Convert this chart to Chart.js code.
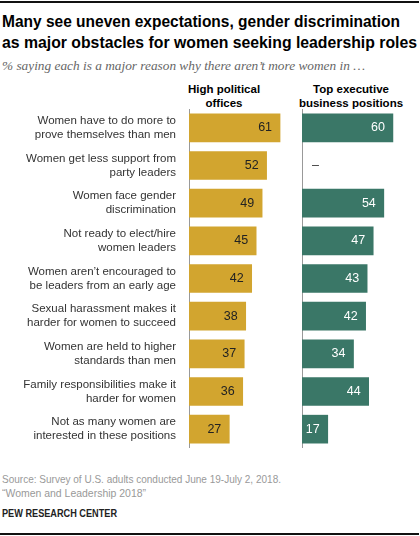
<!DOCTYPE html>
<html>
<head>
<meta charset="utf-8">
<script src="https://cdn.jsdelivr.net/npm/chart.js@4.4.0/dist/chart.umd.min.js"></script>
<style>
    body { margin: 0; background: #fff; }
    #wrap { position: relative; width: 420px; height: 536px; overflow: hidden; font-family: "Liberation Sans", Arial, sans-serif; color: #222; }
    .rule { position: absolute; left: 0; width: 419px; height: 2px; background: #111; }
    .fit { position: absolute; left: 2px; white-space: nowrap; transform-origin: 0 0; }
    .ttl { font-size: 17px; font-weight: bold; color: #000; }
    #sub { top: 58px; font-family: "Liberation Serif", Georgia, serif; font-style: italic; font-size: 13px; color: #666; }
    .colhead { position: absolute; width: 140px; text-align: center; font-size: 11.5px; font-weight: bold; line-height: 14px; color: #000; }
    canvas { position: absolute; }
    .foot { font-size: 11px; color: #999; }
</style>
</head>
<body>
<div id="wrap">
    <div class="rule" style="top:1px"></div>
    <div class="fit ttl" id="t1" style="top:12px">Many see uneven expectations, gender discrimination</div>
    <div class="fit ttl" id="t2" style="top:33px">as major obstacles for women seeking leadership roles</div>
    <div class="fit" id="sub">% saying each is a major reason why there aren’t more women in …</div>

    <div class="colhead" style="left:154px; top:82px">High political<br>offices</div>
    <div class="colhead" style="left:281px; top:82px">Top executive<br>business positions</div>

    <canvas id="politicalChart" style="left:0; top:109px"></canvas>
    <canvas id="businessChart" style="left:297px; top:109px"></canvas>

    <div class="fit foot" id="f1" style="top:473px">Source: Survey of U.S. adults conducted June 19-July 2, 2018.</div>
    <div class="fit foot" id="f2" style="top:487px">“Women and Leadership 2018”</div>
    <div class="fit foot" id="f3" style="top:507px; color:#222; font-weight:bold">PEW RESEARCH CENTER</div>
    <div class="rule" style="top:533px"></div>
</div>

<script>
var reasons = [
    ['Women have to do more to', 'prove themselves than men'],
    ['Women get less support from', 'party leaders'],
    ['Women face gender', 'discrimination'],
    ['Not ready to elect/hire', 'women leaders'],
    ['Women aren\u2019t encouraged to', 'be leaders from an early age'],
    ['Sexual harassment makes it', 'harder for women to succeed'],
    ['Women are held to higher', 'standards than men'],
    ['Family responsibilities make it', 'harder for women'],
    ['Not as many women are', 'interested in these positions']
];
var politicalValues = [61, 52, 49, 45, 42, 38, 37, 36, 27];
var businessValues = [60, null, 54, 47, 43, 42, 34, 44, 17];

var GOLD = '#D2A52F';
var GREEN = '#3A7767';
var FONT = "'Liberation Sans', Arial, sans-serif";

// squeeze text lines to the width they take in the original
function fitLine(id, width) {
    var el = document.getElementById(id);
    var w = el.getBoundingClientRect().width;
    el.style.transform = 'scaleX(' + (width / w) + ')';
}
fitLine('t1', 398);
fitLine('t2', 415);
fitLine('sub', 363);
fitLine('f1', 279);
fitLine('f2', 144);
fitLine('f3', 115);

// value labels drawn near the end of each bar, a dash where there's no value
var valueLabels = {
    id: 'valueLabels',
    afterDatasetsDraw: function(chart) {
        var ctx = chart.ctx;
        var ds = chart.data.datasets[0];
        var meta = chart.getDatasetMeta(0);
        ctx.save();
        ctx.font = '12.5px ' + FONT;
        ctx.textBaseline = 'middle';
        meta.data.forEach(function(bar, i) {
            var v = ds.data[i];
            if (v === null) {
                ctx.fillStyle = '#333';
                ctx.textAlign = 'left';
                ctx.fillText('\u2013', chart.scales.x.getPixelForValue(0) + 10, bar.y);
                return;
            }
            ctx.fillStyle = ds.labelColor;
            ctx.textAlign = 'right';
            ctx.fillText(String(v), bar.x - 8, bar.y);
        });
        ctx.restore();
    }
};

function makeChart(id, width, height, values, color, labelColor, maxVal, axisWidth, showLabels) {
    var canvas = document.getElementById(id);
    canvas.width = width;
    canvas.height = height;
    return new Chart(canvas, {
        type: 'bar',
        data: {
            labels: reasons,
            datasets: [{
                data: values,
                backgroundColor: color,
                labelColor: labelColor,
                barThickness: 28
            }]
        },
        options: {
            indexAxis: 'y',
            responsive: false,
            animation: false,
            layout: { padding: 0 },
            scales: {
                x: { display: false, min: 0, max: maxVal },
                y: {
                    afterFit: function(scale) {
                        scale.width = axisWidth;
                        scale.paddingTop = 0;
                        scale.paddingBottom = 0;
                    },
                    grid: { display: false, drawTicks: false },
                    border: { display: true, color: '#999', width: 1 },
                    ticks: {
                        display: showLabels,
                        padding: 13,
                        color: '#333',
                        font: { size: 11.5, family: FONT, lineHeight: 1.2 }
                    }
                }
            },
            plugins: {
                legend: { display: false },
                tooltip: { enabled: false }
            }
        },
        plugins: [valueLabels]
    });
}

makeChart('politicalChart', 289, 339, politicalValues, GOLD, '#222', 67, 189, true);
makeChart('businessChart', 105, 339, businessValues, GREEN, '#fff', 66, 5, false);
</script>
</body>
</html>
